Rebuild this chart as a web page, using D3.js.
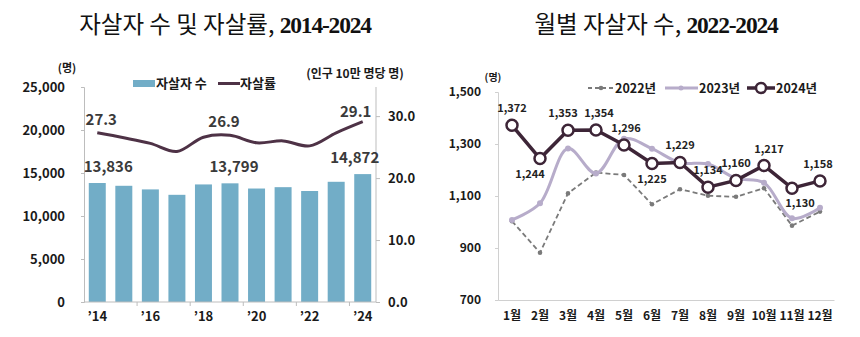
<!DOCTYPE html>
<html><head><meta charset="utf-8">
<script src="https://cdn.jsdelivr.net/npm/d3@7"></script>
<style>
body{margin:0;background:#fff;}
svg text{font-family:"Noto Sans CJK KR","Noto Sans",sans-serif;}
</style></head>
<body><svg id="c" width="860" height="337"></svg>
<script>
// ---------- data ----------
const years = [2014,2015,2016,2017,2018,2019,2020,2021,2022,2023,2024];
const yearLabels = ["’14","","’16","","’18","","’20","","’22","","’24"];
const suicides = [13836,13513,13092,12463,13670,13799,13195,13352,12906,13978,14872];
const rates = [27.3,26.5,25.6,24.3,26.6,26.9,25.7,26.0,25.2,27.3,29.1];
const labeledYears = [2014,2019,2024];
const leftTicks = [0,5000,10000,15000,20000,25000];
const rightTicks = [0,10,20,30];

const months = ["1월","2월","3월","4월","5월","6월","7월","8월","9월","10월","11월","12월"];
const s2022 = [1003,882,1110,1190,1181,1068,1126,1101,1097,1130,986,1040];
const s2023 = [1008,1072,1283,1187,1320,1282,1228,1223,1168,1151,1014,1055];
const s2024 = [1372,1244,1353,1354,1296,1225,1229,1134,1160,1217,1130,1158];
const monthTicks = [700,900,1100,1300,1500];
const label2024Side = ["up","down","up","up","up","down","up","up","up","up","down","up"];
const label2024Shift = [0,-10,-5,3,2,0,0,0,0,5,8,-2];

const svg = d3.select("#c");
const fmt = d3.format(",");
const axisCol = "#bdbdbd", textCol = "#1a1a1a";

// ---------- titles ----------
function title(x, kr, num){
  const t = svg.append("text").attr("x",x).attr("y",33).attr("text-anchor","middle")
    .style("font-size","23.5px").attr("fill","#111");
  t.append("tspan").text(kr).style("font-family","'Noto Sans CJK KR'").style("font-weight","400");
  t.append("tspan").text(num).style("font-family","'Liberation Serif'").style("font-weight","700")
    .style("letter-spacing","-1.2px");
}
title(225, "자살자 수 및 자살률, ", "2014-2024");
title(656, "월별 자살자 수, ", "2022-2024");

// ---------- left chart ----------
const L = {x0:84, x1:376, y0:302, y1:87};
const xb = d3.scaleBand().domain(years).range([L.x0, L.x1]).paddingInner(0.36).paddingOuter(0.18);
const yl = d3.scaleLinear().domain([0,25000]).range([L.y0, L.y1]);
const yr = d3.scaleLinear().domain([0,34.7]).range([L.y0, L.y1]);

const gL = svg.append("g");
gL.selectAll("rect.bar").data(years).join("rect").attr("class","bar")
  .attr("x",d=>xb(d)).attr("width",xb.bandwidth())
  .attr("y",(d,i)=>yl(suicides[i])).attr("height",(d,i)=>yl(0)-yl(suicides[i]))
  .attr("fill","#72adc7");

// left axis
const axL = gL.append("g").attr("transform",`translate(${L.x0},0)`)
  .call(d3.axisLeft(yl).tickValues(leftTicks).tickFormat(fmt).tickSize(3).tickPadding(16));
axL.select(".domain").attr("stroke",axisCol);
axL.selectAll(".tick line").attr("stroke",axisCol);
axL.selectAll("text").style("font-size","13px").style("font-weight","700").attr("fill",textCol);

// right axis
const axR = gL.append("g").attr("transform",`translate(${L.x1},0)`)
  .call(d3.axisRight(yr).tickValues(rightTicks).tickFormat(d3.format(".1f")).tickSize(4).tickPadding(8));
axR.select(".domain").attr("stroke",axisCol).attr("d",`M0,${yr(34.7)}V${L.y0}`);
axR.selectAll(".tick line").attr("stroke",axisCol);
axR.selectAll("text").style("font-size","13px").style("font-weight","700").attr("fill",textCol);

// bottom axis
const axB = gL.append("g").attr("transform",`translate(0,${L.y0})`)
  .call(d3.axisBottom(xb).tickFormat((d,i)=>yearLabels[i]).tickSize(0).tickPadding(10));
axB.select(".domain").attr("stroke",axisCol).attr("d",`M${L.x0},0H${L.x1}`);
axB.selectAll("text").style("font-size","13px").style("font-weight","700").attr("fill",textCol);
// boundary ticks every two categories
const bnd = years.slice(1).map((d,i)=>xb(d) - xb.step()*xb.paddingInner()/2).filter((d,i)=>i%2===1);
gL.selectAll("line.bt").data(bnd).join("line").attr("class","bt")
  .attr("x1",d=>d).attr("x2",d=>d).attr("y1",L.y0).attr("y2",L.y0+4).attr("stroke",axisCol);

// rate line
const line = d3.line().x((d,i)=>xb(years[i])+xb.bandwidth()/2).y(d=>yr(d)).curve(d3.curveCatmullRom.alpha(0.5));
gL.append("path").attr("d",line(rates)).attr("fill","none").attr("stroke","#4e3246").attr("stroke-width",3);

// labels
labeledYears.forEach(y=>{
  const i = years.indexOf(y);
  const cx = xb(y)+xb.bandwidth()/2;
  gL.append("text").attr("x",cx + (i===10?-8:(i===0?11:4))).attr("y",yl(suicides[i])-11)
    .attr("text-anchor","middle").style("font-size","15px").style("font-weight","700").attr("fill","#3a3a3a")
    .text(fmt(suicides[i]));
  gL.append("text").attr("x",cx + (i===10?-7:(i===0?4:-6))).attr("y",yr(rates[i])-(i===10?5:8))
    .attr("text-anchor","middle").style("font-size","15px").style("font-weight","700").attr("fill","#3a3a3a")
    .text(rates[i].toFixed(1));
});

// units
svg.append("text").attr("x",67).attr("y",72).attr("text-anchor","middle")
  .style("font-size","11px").style("font-weight","700").attr("fill",textCol).text("(명)");
svg.append("text").attr("x",355).attr("y",78).attr("text-anchor","middle")
  .style("font-size","12px").style("font-weight","700").attr("fill",textCol).text("(인구 10만 명당 명)");

// legend left
svg.append("rect").attr("x",133).attr("y",80).attr("width",22).attr("height",7).attr("fill","#72adc7");
svg.append("text").attr("x",156).attr("y",88).style("font-size","13px").style("font-weight","700").attr("fill",textCol).text("자살자 수");
svg.append("line").attr("x1",218).attr("x2",240).attr("y1",83.5).attr("y2",83.5).attr("stroke","#4e3246").attr("stroke-width",3);
svg.append("text").attr("x",240).attr("y",88).style("font-size","13px").style("font-weight","700").attr("fill",textCol).text("자살률");

// ---------- right chart ----------
const R = {x0:498, x1:834, y0:300, y1:92};
const xm = d3.scaleBand().domain(months).range([R.x0, R.x1]);
const ym = d3.scaleLinear().domain([700,1500]).range([R.y0, R.y1]);
const gR = svg.append("g");
const mx = (d,i)=>xm(months[i])+xm.bandwidth()/2;

const axY = gR.append("g").attr("transform",`translate(${R.x0},0)`)
  .call(d3.axisLeft(ym).tickValues(monthTicks).tickFormat(fmt).tickSize(3).tickPadding(14));
axY.select(".domain").attr("stroke","#d0d0d0");
axY.selectAll(".tick line").attr("stroke","#d0d0d0");
axY.selectAll("text").style("font-size","12px").style("font-weight","700").attr("fill",textCol);

const axX = gR.append("g").attr("transform",`translate(0,${R.y0})`)
  .call(d3.axisBottom(xm).tickSize(0).tickPadding(11));
axX.select(".domain").attr("stroke","#d0d0d0");
axX.selectAll("text").style("font-size","12px").style("font-weight","700").attr("fill",textCol);

const lineM = d3.line().x(mx).y(d=>ym(d));
// 2022
gR.append("path").attr("d",lineM(s2022)).attr("fill","none").attr("stroke","#7a7a7a")
  .attr("stroke-width",1.8).attr("stroke-dasharray","5,3");
gR.selectAll("circle.p22").data(s2022).join("circle").attr("class","p22")
  .attr("cx",mx).attr("cy",d=>ym(d)).attr("r",2.3).attr("fill","#7a7a7a");
// 2023
gR.append("path").attr("d",lineM.curve(d3.curveCatmullRom.alpha(0.5))(s2023)).attr("fill","none").attr("stroke","#b7acca")
  .attr("stroke-width",3);
gR.selectAll("circle.p23").data(s2023).join("circle").attr("class","p23")
  .attr("cx",mx).attr("cy",d=>ym(d)).attr("r",3).attr("fill","#b7acca");
// 2024
gR.append("path").attr("d",d3.line().x(mx).y(d=>ym(d))(s2024)).attr("fill","none").attr("stroke","#3d2537")
  .attr("stroke-width",3.5);
gR.selectAll("circle.p24").data(s2024).join("circle").attr("class","p24")
  .attr("cx",mx).attr("cy",d=>ym(d)).attr("r",5.5).attr("fill","#fff").attr("stroke","#3d2537").attr("stroke-width",2.5);
gR.selectAll("text.l24").data(s2024).join("text").attr("class","l24")
  .attr("x",(d,i)=>mx(d,i)+label2024Shift[i])
  .attr("y",(d,i)=>ym(d)+(label2024Side[i]==="up"?-13:19))
  .attr("text-anchor","middle").style("font-size","11px").style("font-weight","700").attr("fill","#222")
  .text(d=>fmt(d));

// units right
svg.append("text").attr("x",493).attr("y",81).attr("text-anchor","middle")
  .style("font-size","10px").style("font-weight","700").attr("fill",textCol).text("(명)");

// legend right
const lg = svg.append("g");
lg.append("line").attr("x1",588).attr("x2",614).attr("y1",88).attr("y2",88).attr("stroke","#7a7a7a").attr("stroke-width",1.8).attr("stroke-dasharray","4,3");
lg.append("circle").attr("cx",601).attr("cy",88).attr("r",2.3).attr("fill","#7a7a7a");
lg.append("text").attr("x",615).attr("y",93).style("font-size","12.5px").style("font-weight","700").attr("fill",textCol).text("2022년");
lg.append("line").attr("x1",665).attr("x2",698).attr("y1",88).attr("y2",88).attr("stroke","#b7acca").attr("stroke-width",3);
lg.append("circle").attr("cx",681).attr("cy",88).attr("r",2.5).attr("fill","#b7acca");
lg.append("text").attr("x",699).attr("y",93).style("font-size","12.5px").style("font-weight","700").attr("fill",textCol).text("2023년");
lg.append("line").attr("x1",747).attr("x2",775).attr("y1",88).attr("y2",88).attr("stroke","#3d2537").attr("stroke-width",3.5);
lg.append("circle").attr("cx",761).attr("cy",88).attr("r",5).attr("fill","#fff").attr("stroke","#3d2537").attr("stroke-width",2.5);
lg.append("text").attr("x",776).attr("y",93).style("font-size","12.5px").style("font-weight","700").attr("fill",textCol).text("2024년");
</script></body></html>
